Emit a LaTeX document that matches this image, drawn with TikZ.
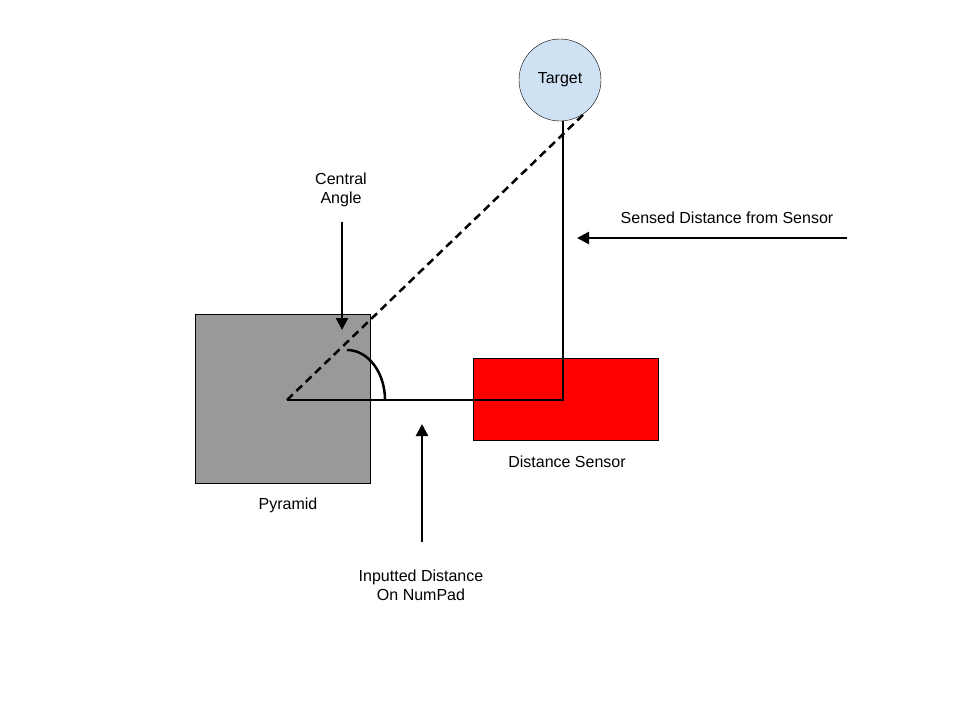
\documentclass[tikz,border=0pt]{standalone}
\usepackage{fontspec}
\setmainfont{Liberation Sans}
\usetikzlibrary{arrows.meta}
\definecolor{tblue}{HTML}{CFE2F3}
\begin{document}
\begin{tikzpicture}[x=1pt,y=-1pt,
  lbl/.style={font=\fontsize{16}{19}\selectfont,align=center,inner sep=0},
  thk/.style={line width=2.5pt},
  arr/.style={line width=2.5pt,-{Triangle[length=12pt,width=12pt]}}]
\useasboundingbox (0,0) rectangle (960,720);
\node[draw,fill=black!40,minimum width=175pt,minimum height=169pt,inner sep=0] (pyr) at (282.5,398.5) {};
\node[draw,fill=red,minimum width=185pt,minimum height=82pt,inner sep=0] (sens) at (565.5,399) {};
\node[draw,circle,fill=tblue,minimum size=82pt,inner sep=0,font=\fontsize{16}{19}\selectfont] (tgt) at (560,80) {Target};
\coordinate (o) at (287,400);
\coordinate (c) at (563,400);
\coordinate (ct) at (563,121);
\draw[thk] (o) -- (c) -- (ct);
\draw[thk,dashed,dash pattern=on 8pt off 5pt] (o) -- (tgt.-50);
\draw[thk] (347,350) arc[start angle=90,end angle=0,x radius=38,y radius=-50];
\node[lbl] (ca) at (341,190) {Central\\Angle};
\node[lbl] (sd) at (727,218) {Sensed Distance from Sensor};
\node[lbl] (ds) at (567,462) {Distance Sensor};
\node[lbl] (pl) at (288,505) {Pyramid};
\node[lbl] (id) at (421,585) {Inputted Distance\\On NumPad};
\coordinate (a1s) at (342,222); \coordinate (a1e) at (342,330);
\coordinate (a2s) at (847,238); \coordinate (a2e) at (577,238);
\coordinate (a3s) at (422,542); \coordinate (a3e) at (422,424);
\draw[arr] (a1s) -- (a1e);
\draw[arr] (a2s) -- (a2e);
\draw[arr] (a3s) -- (a3e);
\end{tikzpicture}
\end{document}
